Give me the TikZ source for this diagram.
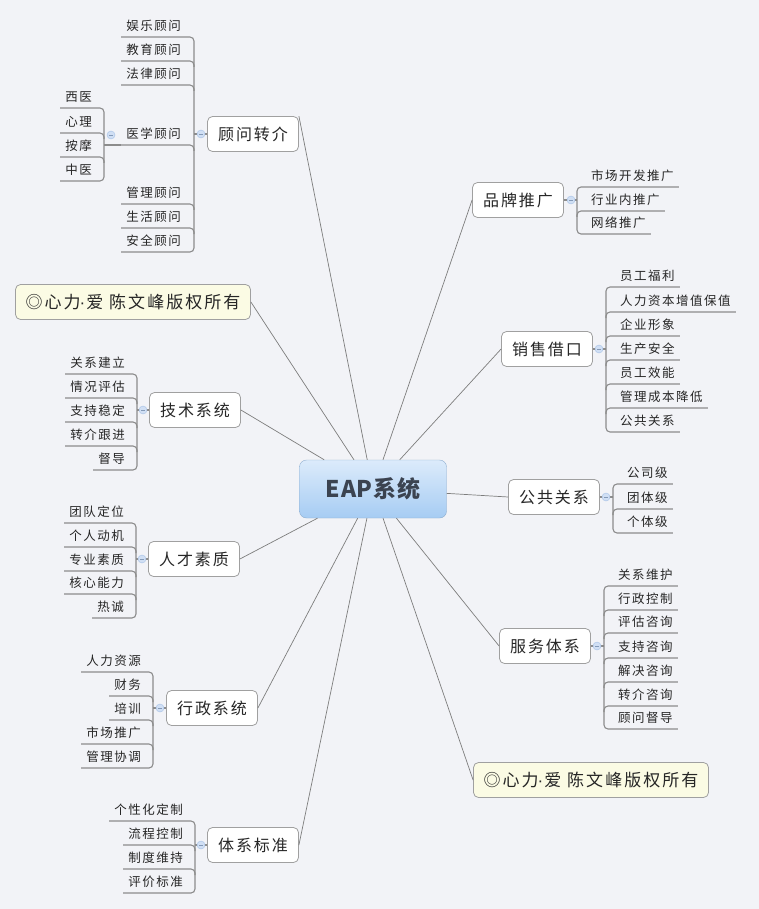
\documentclass[tikz,border=0pt]{standalone}
\usepackage{fontspec}
\newfontfamily\cjk[LetterSpace=12]{Noto Sans CJK SC}
\newfontfamily\cjkroot[LetterSpace=3]{Noto Sans CJK SC}
\newfontfamily\latin{Liberation Sans}
\definecolor{bg}{RGB}{242,243,247}
\definecolor{boxline}{RGB}{160,160,160}
\definecolor{linkgray}{RGB}{125,125,125}
\definecolor{ulgray}{RGB}{140,140,140}
\definecolor{rootline}{RGB}{140,172,206}
\definecolor{roottop}{RGB}{220,235,251}
\definecolor{rootbot}{RGB}{166,204,243}
\definecolor{roottext}{RGB}{59,67,80}
\definecolor{crfill}{RGB}{251,251,228}
\definecolor{foldfill}{RGB}{208,223,244}
\definecolor{foldline}{RGB}{165,192,230}

\begin{document}
\begin{tikzpicture}[x=1pt, y=-1pt,
    root/.style={draw=rootline, top color=roottop, bottom color=rootbot, rounded corners=7pt,
      minimum width=147pt, minimum height=58pt, text=roottext,
      font=\cjkroot\bfseries\fontsize{23}{23}\selectfont},
    topic/.style={draw=boxline, line width=0.8pt, fill=white, rounded corners=5pt,
      minimum width=91pt, minimum height=35pt, inner sep=2pt, text=black!85,
      font=\cjk\fontsize{16}{16}\selectfont},
    crbox/.style={topic, fill=crfill, minimum width=235pt, font=\cjk\fontsize{17}{17}\selectfont},
    lsub/.style={anchor=south east, inner xsep=5pt, inner ysep=4pt, text depth=2pt, text height=10pt,
      text=black!85, font=\cjk\fontsize{12.5}{12.5}\selectfont},
    rsub/.style={lsub, anchor=south west},
    uline/.style={draw=ulgray, line width=1.1pt, rounded corners=4pt},
    link/.style={draw=linkgray, line width=0.7pt},
    fold/.style={circle, draw=foldline, fill=foldfill, minimum size=8pt, inner sep=0pt,
      path picture={\draw[foldline!80!black, line width=0.6pt]
        ([xshift=2pt]path picture bounding box.west) -- ([xshift=-2pt]path picture bounding box.east);}}]

\fill[bg] (0,0) rectangle (759,909);
\useasboundingbox (0,0) rectangle (759,909);

% main topics
\node[root] (eap) at (373,489) {EAP系统};
\node[topic] (guwen) at (253,134) {顾问转介};
\node[topic] (pinpai) at (518,200) {品牌推广};
\node[crbox] (crtop) at (133,302) {◎心力{\latin\kern-1pt·\kern1pt}爱 陈文峰版权所有};
\node[topic] (xiaoshou) at (547,349) {销售借口};
\node[topic] (jishu) at (195,410) {技术系统};
\node[topic] (gongguan) at (554,497) {公共关系};
\node[topic] (rencai) at (194,559) {人才素质};
\node[topic] (fuwu) at (545,646) {服务体系};
\node[topic] (xingzheng) at (212,708) {行政系统};
\node[crbox] (crbot) at (591,780) {◎心力{\latin\kern-1pt·\kern1pt}爱 陈文峰版权所有};
\node[topic] (biaozhun) at (253,845) {体系标准};

\draw[link] (eap) -- (guwen.north east);
\draw[link] (eap) -- (crtop.east);
\draw[link] (eap) -- (jishu.east);
\draw[link] (eap) -- (rencai.east);
\draw[link] (eap) -- (xingzheng.east);
\draw[link] (eap) -- (biaozhun.east);
\draw[link] (eap) -- (pinpai.west);
\draw[link] (eap) -- (xiaoshou.west);
\draw[link] (eap) -- (gongguan.west);
\draw[link] (eap) -- (fuwu.west);
\draw[link] (eap) -- (crbot.west);

% 顾问转介
\coordinate (guwenb) at (194,134);
\node[lsub] (yule) at (186,37) {娱乐顾问};
\node[lsub] (jiaoyu) at (186,61) {教育顾问};
\node[lsub] (falv) at (186,85) {法律顾问};
\node[lsub] (yixue) at (186,145) {医学顾问};
\node[lsub] (guanli) at (186,204) {管理顾问};
\node[lsub] (shenghuo) at (186,228) {生活顾问};
\node[lsub] (anquan) at (186,252) {安全顾问};
\draw[uline] (yule.south west) -- (yule.south east -| guwenb) -- (anquan.south east -| guwenb) -- (anquan.south west);
\foreach \n in {jiaoyu,falv,yixue,guanli,shenghuo}
  \draw[uline] (\n.south west) -- (\n.south east -| guwenb) -- ++(0,6);
\draw[uline] (guwenb) -- (guwen.west);
\node[fold] at (201,134) {};

% 医学顾问
\coordinate (yixueb) at (104,145);
\node[lsub] (xiyi) at (97,108) {西医};
\node[lsub] (xinli) at (97,133) {心理};
\node[lsub] (anmo) at (97,157) {按摩};
\node[lsub] (zhongyi) at (97,181) {中医};
\draw[uline] (xiyi.south west) -- (xiyi.south east -| yixueb) -- (zhongyi.south east -| yixueb) -- (zhongyi.south west);
\foreach \n in {xinli,anmo}
  \draw[uline] (\n.south west) -- (\n.south east -| yixueb) -- ++(0,6);
\draw[uline] (yixueb) -- (yixue.south west);
\node[fold] at (111,135) {};

% 品牌推广
\coordinate (pinpaib) at (577,200);
\node[rsub] (shichang) at (586,187) {市场开发推广};
\node[rsub] (hangye) at (586,211) {行业内推广};
\node[rsub] (wangluo) at (586,234) {网络推广};
\draw[uline] (shichang.south east) -- (shichang.south west -| pinpaib) -- (wangluo.south west -| pinpaib) -- (wangluo.south east);
\draw[uline] (hangye.south east) -- (hangye.south west -| pinpaib) -- ++(0,6);
\draw[uline] (pinpaib) -- (pinpai.east);
\node[fold] at (571,200) {};

% 销售借口
\coordinate (xiaoshoub) at (606,349);
\node[rsub] (fuli) at (615,287) {员工福利};
\node[rsub] (ziben) at (615,312) {人力资本增值保值};
\node[rsub] (xingxiang) at (615,336) {企业形象};
\node[rsub] (shengchan) at (615,360) {生产安全};
\node[rsub] (xiaoneng) at (615,384) {员工效能};
\node[rsub] (chengben) at (615,408) {管理成本降低};
\node[rsub] (gonggong) at (615,432) {公共关系};
\draw[uline] (fuli.south east) -- (fuli.south west -| xiaoshoub) -- (gonggong.south west -| xiaoshoub) -- (gonggong.south east);
\foreach \n in {ziben,xingxiang,shengchan,xiaoneng,chengben}
  \draw[uline] (\n.south east) -- (\n.south west -| xiaoshoub) -- ++(0,6);
\draw[uline] (xiaoshoub) -- (xiaoshou.east);
\node[fold] at (599,349) {};

% 技术系统
\coordinate (jishub) at (137,410);
\node[lsub] (jianli) at (130,374) {关系建立};
\node[lsub] (pinggu) at (130,398) {情况评估};
\node[lsub] (wending) at (130,422) {支持稳定};
\node[lsub] (genjin) at (130,446) {转介跟进};
\node[lsub] (dudao) at (130,470) {督导};
\draw[uline] (jianli.south west) -- (jianli.south east -| jishub) -- (dudao.south east -| jishub) -- (dudao.south west);
\foreach \n in {pinggu,wending,genjin}
  \draw[uline] (\n.south west) -- (\n.south east -| jishub) -- ++(0,6);
\draw[uline] (jishub) -- (jishu.west);
\node[fold] at (143,410) {};

% 公共关系
\coordinate (gongguanb) at (613,497);
\node[rsub] (gongsi) at (622,484) {公司级};
\node[rsub] (tuanti) at (622,509) {团体级};
\node[rsub] (geti) at (622,533) {个体级};
\draw[uline] (gongsi.south east) -- (gongsi.south west -| gongguanb) -- (geti.south west -| gongguanb) -- (geti.south east);
\draw[uline] (tuanti.south east) -- (tuanti.south west -| gongguanb) -- ++(0,6);
\draw[uline] (gongguanb) -- (gongguan.east);
\node[fold] at (606,497) {};

% 人才素质
\coordinate (rencaib) at (136,559);
\node[lsub] (dingwei) at (129,523) {团队定位};
\node[lsub] (dongji) at (129,547) {个人动机};
\node[lsub] (suzhi) at (129,571) {专业素质};
\node[lsub] (nengli) at (129,594) {核心能力};
\node[lsub] (recheng) at (129,618) {热诚};
\draw[uline] (dingwei.south west) -- (dingwei.south east -| rencaib) -- (recheng.south east -| rencaib) -- (recheng.south west);
\foreach \n in {dongji,suzhi,nengli}
  \draw[uline] (\n.south west) -- (\n.south east -| rencaib) -- ++(0,6);
\draw[uline] (rencaib) -- (rencai.west);
\node[fold] at (142,559) {};

% 服务体系
\coordinate (fuwub) at (604,646);
\node[rsub] (weihu) at (613,586) {关系维护};
\node[rsub] (kongzhi) at (613,610) {行政控制};
\node[rsub] (pgzixun) at (613,633) {评估咨询};
\node[rsub] (zczixun) at (613,658) {支持咨询};
\node[rsub] (jjzixun) at (613,682) {解决咨询};
\node[rsub] (zjzixun) at (613,706) {转介咨询};
\node[rsub] (gwdudao) at (613,729) {顾问督导};
\draw[uline] (weihu.south east) -- (weihu.south west -| fuwub) -- (gwdudao.south west -| fuwub) -- (gwdudao.south east);
\foreach \n in {kongzhi,pgzixun,zczixun,jjzixun,zjzixun}
  \draw[uline] (\n.south east) -- (\n.south west -| fuwub) -- ++(0,6);
\draw[uline] (fuwub) -- (fuwu.east);
\node[fold] at (597,646) {};

% 行政系统
\coordinate (xingzhengb) at (153,708);
\node[lsub] (ziyuan) at (146,672) {人力资源};
\node[lsub] (caiwu) at (146,696) {财务};
\node[lsub] (peixun) at (146,720) {培训};
\node[lsub] (tuiguang) at (146,744) {市场推广};
\node[lsub] (xietiao) at (146,768) {管理协调};
\draw[uline] (ziyuan.south west) -- (ziyuan.south east -| xingzhengb) -- (xietiao.south east -| xingzhengb) -- (xietiao.south west);
\foreach \n in {caiwu,peixun,tuiguang}
  \draw[uline] (\n.south west) -- (\n.south east -| xingzhengb) -- ++(0,6);
\draw[uline] (xingzhengb) -- (xingzheng.west);
\node[fold] at (160,708) {};

% 体系标准
\coordinate (biaozhunb) at (195,845);
\node[lsub] (dingzhi) at (188,821) {个性化定制};
\node[lsub] (liucheng) at (188,845) {流程控制};
\node[lsub] (weichi) at (188,869) {制度维持};
\node[lsub] (pingjia) at (188,893) {评价标准};
\draw[uline] (dingzhi.south west) -- (dingzhi.south east -| biaozhunb) -- (pingjia.south east -| biaozhunb) -- (pingjia.south west);
\foreach \n in {liucheng,weichi}
  \draw[uline] (\n.south west) -- (\n.south east -| biaozhunb) -- ++(0,6);
\draw[uline] (biaozhunb) -- (biaozhun.west);
\node[fold] at (201,845) {};
\end{tikzpicture}
\end{document}
